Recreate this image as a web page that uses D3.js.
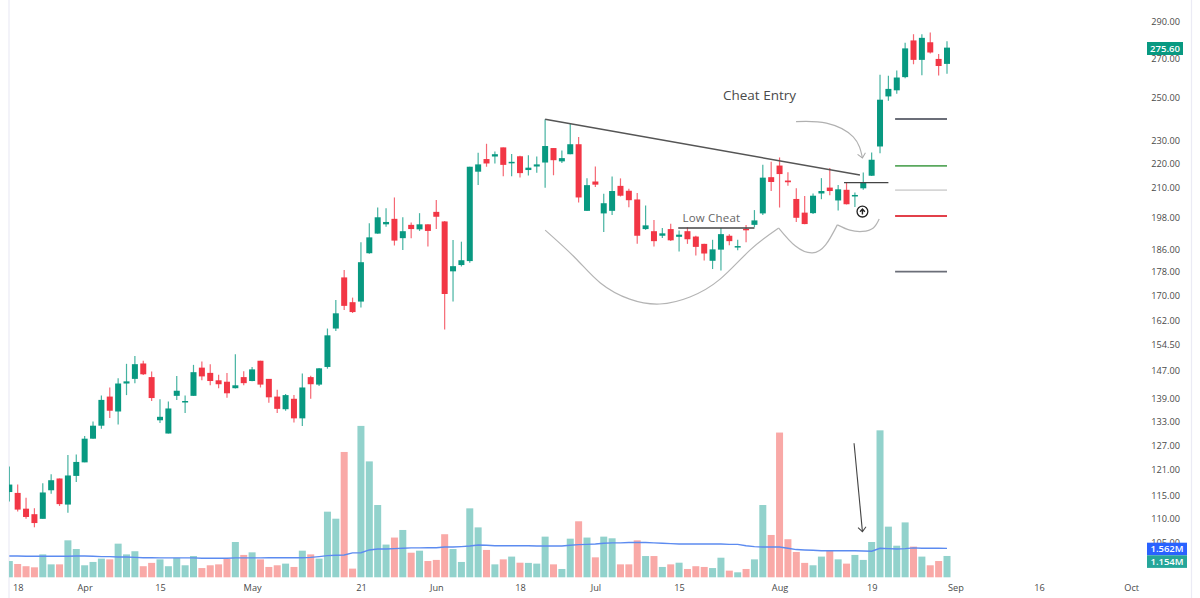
<!DOCTYPE html>
<html lang="en">
<head>
<meta charset="utf-8">
<title>Cheat Entry</title>
<style>
    html, body { margin: 0; padding: 0; background: #fff; }
    svg { display: block; }
    text { font-family: "Open Sans", "Noto Sans", sans-serif; }
    .axis path, .axis line { display: none; }
    .axis text { fill: #4a4a4a; font-size: 9.2px; }
</style>
</head>
<body>
<div id="chart"></div>
<script src="https://cdn.jsdelivr.net/npm/d3@7"></script>
<script>

// prices, one entry per trading day
var opens = [115.9,115.7,112.2,111.0,110.0,116.3,119.0,113.1,119.6,122.8,
    128.6,131.9,139.6,135.6,143.2,144.5,148.9,145.0,133.3,129.9,
    139.8,138.1,139.8,147.7,146.2,144.1,143.7,141.9,145.0,143.9,
    149.7,144.5,139.6,136.2,139.0,133.8,145.0,142.9,147.9,159.4,
    176.1,167.8,168.0,184.6,191.8,195.3,197.4,190.1,195.1,193.4,
    195.3,200.1,196.4,178.2,180.4,181.8,216.4,221.8,222.9,226.9,
    220.2,223.0,217.1,218.6,220.3,226.6,220.8,223.9,228.3,200.5,
    212.3,199.5,200.5,210.5,208.5,205.0,193.5,192.7,191.0,193.5,
    190.6,192.7,190.7,188.0,181.9,185.9,191.0,186.7,193.6,195.1,
    199.5,214.1,219.0,212.7,205.2,199.8,199.6,207.4,209.8,204.6,
    208.9,206.4,209.5,214.7,227.3,250.6,253.6,260.2,279.5,269.1,
    278.5,269.6,267.0];
var highs = [121.8,117.6,114.6,112.3,117.9,120.0,119.0,124.6,124.7,129.3,
    133.0,139.9,142.1,144.7,148.8,151.1,149.7,146.6,138.9,138.3,
    145.3,139.9,148.5,149.5,148.7,145.7,146.2,151.6,146.7,147.9,
    149.7,144.5,141.5,140.3,140.0,146.0,145.4,147.6,159.4,168.5,
    178.7,169.3,188.6,195.7,201.8,201.5,205.8,198.0,196.0,199.6,
    195.3,204.8,196.6,189.4,188.8,218.5,224.5,228.5,225.1,226.9,
    224.0,223.2,223.4,222.9,239.7,226.6,225.5,237.6,231.5,213.6,
    218.6,207.3,214.4,213.6,209.3,207.6,202.6,197.0,193.9,195.5,
    193.0,194.2,191.0,188.0,189.5,193.9,191.6,189.5,195.0,200.8,
    219.4,220.6,222.5,216.2,209.5,206.4,207.4,213.7,218.0,210.9,
    211.9,207.8,216.1,224.7,261.4,260.9,263.6,278.2,282.9,282.9,
    283.8,272.2,279.1];
var lows = [113.8,111.6,110.0,108.2,110.0,115.5,112.8,111.3,118.2,122.8,
    128.6,131.1,133.9,132.2,140.0,143.3,145.6,138.4,132.6,129.9,
    138.7,135.2,139.8,144.1,142.7,141.9,139.3,141.8,142.7,143.8,
    142.1,137.9,135.2,135.8,132.7,131.8,139.0,142.5,147.4,158.6,
    165.3,164.3,166.1,184.4,191.7,194.4,187.4,185.8,190.1,192.8,
    187.0,193.5,159.1,168.0,179.9,181.2,210.9,218.5,219.9,214.5,
    214.5,214.0,214.8,216.0,209.7,214.9,220.1,223.9,203.8,200.4,
    210.0,192.4,198.9,206.2,201.9,188.0,193.2,187.0,190.2,189.1,
    185.2,188.0,183.8,182.0,179.0,178.5,187.5,185.7,188.6,194.2,
    198.9,208.4,201.8,210.6,196.2,195.3,199.3,205.1,206.7,200.6,
    203.0,202.0,208.9,214.6,224.3,248.5,251.9,259.6,266.8,261.2,
    272.5,261.0,261.9];
var closes = [117.6,112.0,110.4,109.1,115.8,118.6,113.2,119.7,122.9,128.6,
    131.9,138.7,135.8,143.2,143.8,148.7,145.8,139.2,134.2,136.4,
    141.2,138.4,146.4,145.2,143.9,143.0,140.5,142.7,143.3,147.2,
    142.9,139.4,136.3,140.0,133.8,142.1,143.0,147.5,157.3,164.2,
    166.6,164.6,181.4,190.4,198.0,196.2,189.2,192.7,193.5,195.3,
    192.8,198.2,170.5,180.0,182.1,218.5,219.5,219.9,223.9,219.3,
    220.6,215.8,218.1,219.5,227.5,221.3,222.2,228.3,205.8,210.8,
    211.0,203.5,208.4,206.5,204.7,191.0,194.9,189.0,191.9,189.3,
    191.4,189.7,186.9,184.5,186.0,191.6,189.0,187.2,193.1,196.8,
    213.9,212.1,215.4,212.0,197.8,195.4,206.5,208.4,208.4,209.1,
    203.1,206.8,211.9,221.5,249.0,254.3,260.0,275.2,269.1,280.9,
    273.0,265.9,275.6];

// volume in millions and its moving average
var volumes = [.88,.72,.60,.54,1.24,.70,.70,2.00,1.53,.65,
    .83,1.01,.97,1.82,1.24,1.41,.60,.78,.97,.60,
    1.05,.65,1.15,.50,.65,.70,1.01,1.91,1.21,1.35,
    .97,.56,.65,.74,.56,1.44,1.24,1.01,3.55,3.17,
    6.78,.47,8.19,6.27,3.91,1.77,2.15,2.56,1.33,1.44,
    .88,.94,2.33,1.53,.83,3.73,2.70,1.48,.70,.97,
    1.12,.79,.78,.74,2.20,.70,.45,2.09,3.03,2.15,
    1.08,2.20,2.11,.70,.70,2.00,1.15,1.15,.56,.70,
    .79,.45,.60,.56,.50,1.06,.36,.27,.45,.97,
    3.91,2.29,7.83,2.06,1.37,.78,.65,1.12,1.46,.97,
    .74,1.21,.94,1.91,7.95,2.74,1.71,2.97,1.66,1.12,
    .65,.88,1.154];
var volumeMa = [1.15,1.15,1.14,1.14,1.14,1.14,1.14,1.14,1.15,1.15,
    1.14,1.12,1.12,1.10,1.10,1.08,1.06,1.06,1.05,1.05,
    1.05,1.05,1.05,1.03,1.03,1.03,1.03,1.05,1.05,1.05,
    1.05,1.06,1.06,1.06,1.06,1.06,1.08,1.12,1.17,1.19,
    1.21,1.32,1.33,1.48,1.53,1.53,1.55,1.57,1.59,1.59,
    1.60,1.60,1.64,1.64,1.66,1.69,1.75,1.73,1.71,1.71,
    1.71,1.71,1.71,1.69,1.69,1.69,1.69,1.73,1.77,1.78,
    1.80,1.84,1.86,1.86,1.88,1.88,1.88,1.86,1.84,1.82,
    1.80,1.80,1.80,1.80,1.80,1.80,1.78,1.78,1.71,1.66,
    1.64,1.64,1.64,1.57,1.50,1.48,1.46,1.44,1.44,1.44,
    1.44,1.44,1.42,1.41,1.57,1.55,1.53,1.55,1.59,1.57,
    1.57,1.57,1.562];

var priceTicks = [290,270,250,230,220,210,198,186,178,170,162,154.5,147,139,133,127,121,115,110,105];
var dateTickDays = [1,9,18,29,42,51,61,70,80,92,103,113,123,134];
var dateTickLabels = ["18","Apr","15","May","21","Jun","18","Jul","15","Aug","19","Sep","16","Oct"];

// drawings, as [day, price]
var trendLine = [[64,239.7],[101.6,215]];
var lowCheatLine = [[79.9,193.9],[89,193.9]];
var pivotLine = [[99.7,211.8],[105,211.8]];
var cupCurve = [[64,193.1],[67.6,182.9],[70.6,174.2],[74.1,168.8],[77.7,167.2],[81.3,169.5],[84.9,175.5],[88.5,185.8],[91.9,193.9]];
var handleCurve1 = [[91.9,193.9],[93.9,187.2],[95.9,184.7],[97.5,187.6],[98.9,195.1]];
var handleCurve2 = [[98.9,195.1],[100.4,193.1],[101.9,192.6],[103.2,193.9],[103.9,197.3]];
var entryArrow = [[93.97,238.6],[97.6,237.9],[100.8,231.6],[101.9,222.3]];
var volumeArrow = [[100.9,7.25],[101.9,2.47]];
var levelPrices = [239.8,218.9,208.8,198.5,178.1];
var levelColors = ["#6b6e78","#5aa85e","#d6d6d6","#e2404a","#6b6e78"];
var levelDays = [105.8,112];

var days = d3.range(opens.length);
var green = "#089981", red = "#f23645";

var svg = d3.select("#chart").append("svg")
    .attr("width", 1200)
    .attr("height", 598);

var x = d3.scaleLinear().domain([0,112]).range([9.3,947]);
var y = d3.scaleLog().domain([290,105]).range([21.5,542.7]);
var yVol = d3.scaleLinear().domain([0,8.19]).range([577.3,425.9]);

function isUp(i) { return closes[i] >= opens[i]; }

var defs = svg.append("defs");

// the first bar is cut by the left edge of the pane
defs.append("clipPath").attr("id","pane").append("rect")
    .attr("x",9).attr("y",0).attr("width",1182).attr("height",598);

// panel borders
svg.selectAll(".border").data([9,1191.5]).enter().append("line")
    .attr("class","border")
    .attr("x1",function(d){return d;}).attr("x2",function(d){return d;})
    .attr("y1",0).attr("y2",598)
    .attr("stroke","#ebebf5").attr("stroke-width",1.2);

var pane = svg.append("g").attr("clip-path","url(#pane)");

// volume
pane.selectAll(".vol").data(days).enter().append("rect")
    .attr("class","vol")
    .attr("x",function(i){return x(i)-3.5;})
    .attr("width",7)
    .attr("y",function(i){return yVol(volumes[i]);})
    .attr("height",function(i){return yVol(0)-yVol(volumes[i]);})
    .attr("fill",function(i){return isUp(i) ? "#92d2cc" : "#f9a9a7";});

pane.append("path")
    .datum(days)
    .attr("fill","none")
    .attr("stroke","#5c8bf0")
    .attr("stroke-width",1.4)
    .attr("d",d3.line().x(function(i){return x(i);}).y(function(i){return yVol(volumeMa[i]);}));

// candles
var candle = pane.selectAll(".candle").data(days).enter().append("g").attr("class","candle");
candle.append("line")
    .attr("x1",function(i){return x(i);}).attr("x2",function(i){return x(i);})
    .attr("y1",function(i){return y(highs[i]);}).attr("y2",function(i){return y(lows[i]);})
    .attr("stroke",function(i){return isUp(i) ? green : red;})
    .attr("stroke-width",1.2)
    .attr("stroke-opacity",0.75);
candle.append("rect")
    .attr("x",function(i){return x(i)-3;})
    .attr("width",6)
    .attr("y",function(i){return y(Math.max(opens[i],closes[i]));})
    .attr("height",function(i){return Math.max(1.5,Math.abs(y(opens[i])-y(closes[i])));})
    .attr("fill",function(i){return isUp(i) ? green : red;});

// axes
svg.append("g").attr("class","axis")
    .attr("transform","translate(1180,0)")
    .call(d3.axisLeft(y).tickValues(priceTicks).tickSize(0).tickPadding(0).tickFormat(d3.format(".2f")));
svg.append("g").attr("class","axis")
    .attr("transform","translate(0,584)")
    .call(d3.axisBottom(x).tickValues(dateTickDays).tickSize(0).tickPadding(0)
        .tickFormat(function(d,i){return dateTickLabels[i];}));

// drawings
var line = d3.line().x(function(d){return x(d[0]);}).y(function(d){return y(d[1]);});
var curve = d3.line().curve(d3.curveNatural).x(function(d){return x(d[0]);}).y(function(d){return y(d[1]);});

svg.append("path").attr("d",line(trendLine)).attr("fill","none").attr("stroke","#555").attr("stroke-width",1.4);
svg.append("path").attr("d",line(lowCheatLine)).attr("fill","none").attr("stroke","#444").attr("stroke-width",1.3);
svg.append("path").attr("d",line(pivotLine)).attr("fill","none").attr("stroke","#444").attr("stroke-width",1.3);

[cupCurve,handleCurve1,handleCurve2].forEach(function(c){
    svg.append("path").attr("d",curve(c)).attr("fill","none").attr("stroke","#b4b4b4").attr("stroke-width",1.2);
});

svg.selectAll(".level").data(levelPrices).enter().append("line")
    .attr("class","level")
    .attr("x1",x(levelDays[0])).attr("x2",x(levelDays[1]))
    .attr("y1",function(d){return y(d);}).attr("y2",function(d){return y(d);})
    .attr("stroke",function(d,i){return levelColors[i];})
    .attr("stroke-width",1.8);

function arrowHead(id,color) {
    defs.append("marker").attr("id",id)
        .attr("viewBox","-6 -5 7 10").attr("refX",0).attr("refY",0)
        .attr("markerWidth",7).attr("markerHeight",10)
        .attr("markerUnits","userSpaceOnUse")
        .attr("orient","auto")
        .append("path").attr("d","M-4.5,-4 L0,0 L-4.5,4").attr("fill","none").attr("stroke",color).attr("stroke-width",1);
}
arrowHead("head-grey","#a8a8a8");
arrowHead("head-dark","#444");

svg.append("path").attr("d",curve(entryArrow)).attr("fill","none")
    .attr("stroke","#b0b0b0").attr("stroke-width",1.1).attr("marker-end","url(#head-grey)");
svg.append("path")
    .attr("d",d3.line().x(function(d){return x(d[0]);}).y(function(d){return yVol(d[1]);})(volumeArrow))
    .attr("fill","none").attr("stroke","#444").attr("stroke-width",1.1).attr("marker-end","url(#head-dark)");

// circled up arrow under the entry bar
var badge = svg.append("g").attr("transform","translate("+x(101.9)+","+y(200.2)+")");
badge.append("circle").attr("r",5.4).attr("fill","#fff").attr("stroke","#222").attr("stroke-width",1.3);
badge.append("path").attr("d","M0,3 L0,-2 M-2.4,0.2 L0,-2.6 L2.4,0.2").attr("fill","none").attr("stroke","#222").attr("stroke-width",1.4);

svg.append("text").attr("x",723).attr("y",100).attr("fill","#4a4a4a").attr("font-size",13.5).text("Cheat Entry");
svg.append("text").attr("x",682.5).attr("y",222).attr("fill","#666").attr("font-size",11.5).attr("letter-spacing",0.2).text("Low Cheat");

// last value labels on the scale
function valueLabel(top,h,w,color,label) {
    svg.append("rect").attr("x",1147).attr("y",top).attr("width",w).attr("height",h).attr("fill",color);
    svg.append("text").attr("x",1147+w/2).attr("y",top+h/2+3.3).attr("text-anchor","middle")
        .attr("fill","#fff").attr("font-size",9.5).attr("font-weight",600).text(label);
}
valueLabel(42,13,36,green,d3.format(".2f")(closes[closes.length-1]));
valueLabel(542.7,12.6,40,"#2962ff",d3.format(".3f")(volumeMa[volumeMa.length-1])+"M");
valueLabel(555.3,12.6,40,"#26a69a",d3.format(".3f")(volumes[volumes.length-1])+"M");

</script>
</body>
</html>
